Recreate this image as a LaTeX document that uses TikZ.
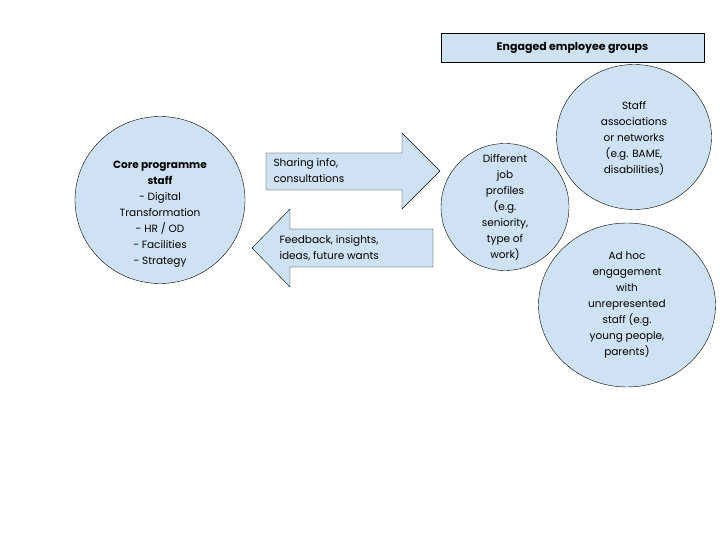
\documentclass[tikz,border=0pt]{standalone}
\usepackage{fontspec}
\setmainfont{Poppins}
\usetikzlibrary{shapes.geometric}
\definecolor{lb}{HTML}{CFE2F3}
\begin{document}
\begin{tikzpicture}[x=1pt,y=-1pt,
  fs/.style={font=\fontsize{10.5}{16}\selectfont},
  bub/.style={draw=black,fill=lb,ellipse,inner sep=0pt},
  txt/.style={align=center,fs},
  arr/.style={draw=black,fill=lb},
  lab/.style={align=left,fs,anchor=west}]
\useasboundingbox (0,0) rectangle (720,540);
\node[bub,minimum width=170,minimum height=167] (core) at (160,200) {};
\node[txt] (coret) at (160,214) {\textbf{Core programme}\\\textbf{staff}\\- Digital\\Transformation\\- HR / OD\\- Facilities\\- Strategy};
\node[draw=black,fill=lb,minimum width=263,minimum height=29,font=\fontsize{11}{13}\selectfont\bfseries] (title) at (572.5,47.5) {Engaged employee groups};
\node[bub,minimum width=128,minimum height=127] (job) at (505,207) {};
\node[txt] (jobt) at (505,207) {Different\\job\\profiles\\(e.g.\\seniority,\\type of\\work)};
\node[bub,minimum width=155,minimum height=145] (assoc) at (634,137) {};
\node[txt] (assoct) at (634,138) {Staff\\associations\\or networks\\(e.g. BAME,\\disabilities)};
\node[bub,minimum width=177,minimum height=164] (adhoc) at (627,305) {};
\node[txt] (adhoct) at (627,305) {Ad hoc\\engagement\\with\\unrepresented\\staff (e.g.\\young people,\\parents)};
\draw[arr] (266,153) -- (402,153) -- (402,133) -- (440,171) -- (402,209) -- (402,190) -- (266,190) -- cycle;
\node[lab] (t1) at (270,171) {Sharing info,\\consultations};
\draw[arr] (433,229) -- (290,229) -- (290,209) -- (252,248) -- (290,287) -- (290,267) -- (433,267) -- cycle;
\node[lab] (t2) at (276,248) {Feedback, insights,\\ideas, future wants};
\end{tikzpicture}
\end{document}
